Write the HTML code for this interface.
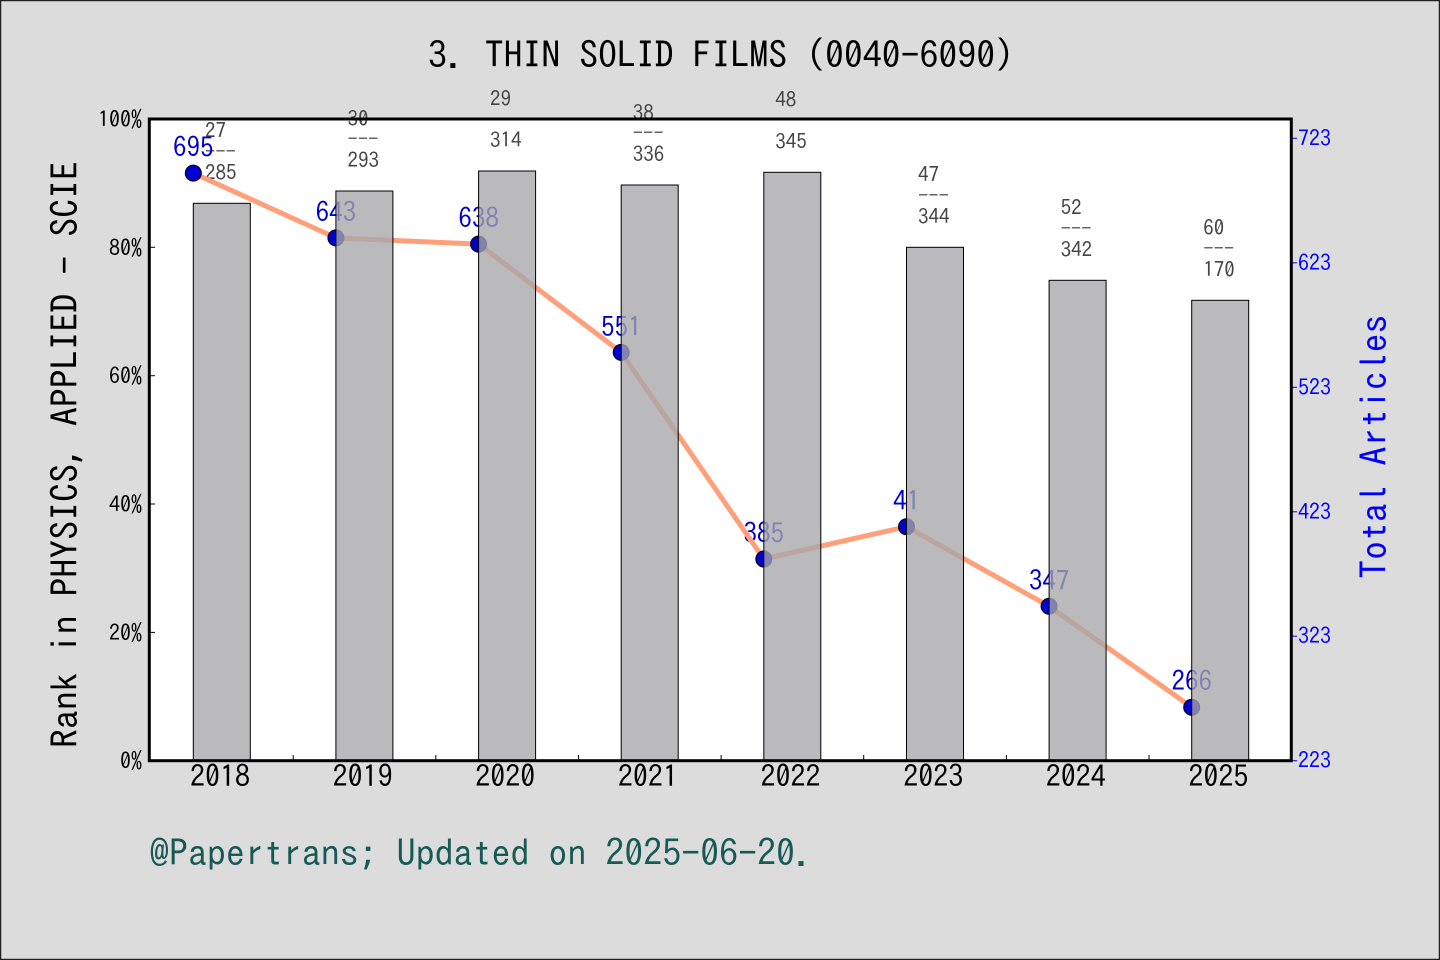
<!DOCTYPE html>
<html><head><meta charset="utf-8"><style>
html,body{margin:0;padding:0;background:#dcdcdc;}
svg{display:block;}
text{font-family:"IPAGothic","Liberation Sans","Noto Sans CJK JP",sans-serif;}
</style></head><body>
<svg width="1440" height="960" viewBox="0 0 1440 960" xmlns="http://www.w3.org/2000/svg">
<rect x="0" y="0" width="1440" height="960" fill="#dcdcdc"/>
<rect x="0.5" y="0.5" width="1439" height="959" fill="none" stroke="#222" stroke-width="1.5"/>
<!-- plot area -->
<rect x="149.3" y="119" width="1142" height="641.7" fill="#ffffff"/>

<!-- title -->
<text x="721" y="68" font-size="37" text-anchor="middle" textLength="586" lengthAdjust="spacingAndGlyphs" fill="#000">3. THIN SOLID FILMS (0040-6090)</text>

<!-- gray labels (rank / total) -->
<g font-size="21" fill="#444">
<text x="205" y="138.2">27</text><text x="205" y="159" fill="#666" textLength="31" lengthAdjust="spacingAndGlyphs">---</text><text x="205" y="179.8">285</text>
<text x="347.5" y="125.9">30</text><text x="347.5" y="146.7" fill="#666" textLength="31" lengthAdjust="spacingAndGlyphs">---</text><text x="347.5" y="167.5">293</text>
<text x="490" y="105.9">29</text><text x="490" y="126.7" fill="#666" textLength="31" lengthAdjust="spacingAndGlyphs">---</text><text x="490" y="147.5">314</text>
<text x="632.7" y="119.9">38</text><text x="632.7" y="140.7" fill="#666" textLength="31" lengthAdjust="spacingAndGlyphs">---</text><text x="632.7" y="161.5">336</text>
<text x="775.3" y="107.2">48</text><text x="775.3" y="128" fill="#666" textLength="31" lengthAdjust="spacingAndGlyphs">---</text><text x="775.3" y="148.8">345</text>
<text x="918" y="182.2">47</text><text x="918" y="203" fill="#666" textLength="31" lengthAdjust="spacingAndGlyphs">---</text><text x="918" y="223.8">344</text>
<text x="1060.6" y="215.2">52</text><text x="1060.6" y="236" fill="#666" textLength="31" lengthAdjust="spacingAndGlyphs">---</text><text x="1060.6" y="256.8">342</text>
<text x="1203.2" y="235.2">60</text><text x="1203.2" y="256" fill="#666" textLength="31" lengthAdjust="spacingAndGlyphs">---</text><text x="1203.2" y="276.8">170</text>
</g>

<!-- blue value labels -->
<g font-size="27" fill="#0000cd" text-anchor="middle">
<text x="193.3" y="157.1">695</text>
<text x="335.9" y="221.9">643</text>
<text x="478.6" y="228.1">638</text>
<text x="621.2" y="336.4">551</text>
<text x="763.8" y="543">385</text>
<text x="906.5" y="510.7">41</text>
<text x="1049.1" y="590.3">347</text>
<text x="1191.7" y="691.2">266</text>
</g>

<!-- line -->
<polyline points="193.3,173.1 335.9,237.9 478.6,244.1 621.2,352.4 763.8,559 906.5,526.7 1049.1,606.3 1191.7,707.2" fill="none" stroke="#ffa07a" stroke-width="5" stroke-linejoin="round" stroke-linecap="round"/>
<g fill="#0000cd" stroke="#000" stroke-width="1">
<circle cx="193.3" cy="173.1" r="8"/>
<circle cx="335.9" cy="237.9" r="8"/>
<circle cx="478.6" cy="244.1" r="8"/>
<circle cx="621.2" cy="352.4" r="8"/>
<circle cx="763.8" cy="559" r="8"/>
<circle cx="906.5" cy="526.7" r="8"/>
<circle cx="1049.1" cy="606.3" r="8"/>
<circle cx="1191.7" cy="707.2" r="8"/>
</g>

<!-- bars -->
<g fill="rgb(166,167,170)" fill-opacity="0.78" stroke="#000" stroke-width="1" stroke-opacity="1">
<rect x="193.3" y="203.3" width="57" height="557.4"/>
<rect x="335.9" y="191" width="57" height="569.7"/>
<rect x="478.6" y="171" width="57" height="589.7"/>
<rect x="621.2" y="185" width="57" height="575.7"/>
<rect x="763.8" y="172.3" width="57" height="588.4"/>
<rect x="906.5" y="247.3" width="57" height="513.4"/>
<rect x="1049.1" y="280.3" width="57" height="480.4"/>
<rect x="1191.7" y="300.3" width="57" height="460.4"/>
</g>

<!-- left ticks (inside) -->
<g stroke="#000" stroke-width="1">
<line x1="149" y1="247.3" x2="155" y2="247.3"/>
<line x1="149" y1="375.7" x2="155" y2="375.7"/>
<line x1="149" y1="504" x2="155" y2="504"/>
<line x1="149" y1="632.4" x2="155" y2="632.4"/>
<!-- bottom minor ticks -->
<line x1="293.2" y1="761" x2="293.2" y2="755"/>
<line x1="435.8" y1="761" x2="435.8" y2="755"/>
<line x1="578.5" y1="761" x2="578.5" y2="755"/>
<line x1="721.1" y1="761" x2="721.1" y2="755"/>
<line x1="863.7" y1="761" x2="863.7" y2="755"/>
<line x1="1006.4" y1="761" x2="1006.4" y2="755"/>
<line x1="1149" y1="761" x2="1149" y2="755"/>
</g>
<!-- right ticks -->
<g stroke="#0000ff" stroke-width="1">
<line x1="1291" y1="138.3" x2="1297" y2="138.3"/>
<line x1="1291" y1="262.8" x2="1297" y2="262.8"/>
<line x1="1291" y1="387.3" x2="1297" y2="387.3"/>
<line x1="1291" y1="511.8" x2="1297" y2="511.8"/>
<line x1="1291" y1="636.2" x2="1297" y2="636.2"/>
<line x1="1291" y1="760.7" x2="1297" y2="760.7"/>
</g>

<!-- frame -->
<rect x="149.3" y="119" width="1142" height="641.7" fill="none" stroke="#000" stroke-width="3"/>

<!-- left tick labels -->
<g font-size="22" fill="#000" text-anchor="end">
<text x="142" y="127">100%</text>
<text x="142" y="255.3">80%</text>
<text x="142" y="383.7">60%</text>
<text x="142" y="512">40%</text>
<text x="142" y="640.4">20%</text>
<text x="142" y="768.7">0%</text>
</g>
<!-- right tick labels -->
<g font-size="22" fill="#0000ff">
<text x="1298" y="145.8">723</text>
<text x="1298" y="270.3">623</text>
<text x="1298" y="394.8">523</text>
<text x="1298" y="519.3">423</text>
<text x="1298" y="643.7">323</text>
<text x="1298" y="768.2">223</text>
</g>
<!-- year labels -->
<g font-size="30" fill="#000" text-anchor="middle">
<text x="220" y="787">2018</text>
<text x="362.6" y="787">2019</text>
<text x="505.3" y="787">2020</text>
<text x="647.9" y="787">2021</text>
<text x="790.5" y="787">2022</text>
<text x="933.2" y="787">2023</text>
<text x="1075.8" y="787">2024</text>
<text x="1218.4" y="787">2025</text>
</g>

<!-- axis labels -->
<text transform="translate(78,454.5) rotate(-90)" font-size="37" text-anchor="middle" textLength="587" lengthAdjust="spacingAndGlyphs" fill="#000">Rank in PHYSICS, APPLIED - SCIE</text>
<text transform="translate(1387,446.7) rotate(-90)" font-size="37" text-anchor="middle" textLength="264" lengthAdjust="spacingAndGlyphs" fill="#0000ff">Total Articles</text>

<!-- footer -->
<text x="150" y="866" font-size="37" textLength="664" lengthAdjust="spacingAndGlyphs" fill="#175a55">@Papertrans; Updated on 2025-06-20.</text>
</svg>
</body></html>
